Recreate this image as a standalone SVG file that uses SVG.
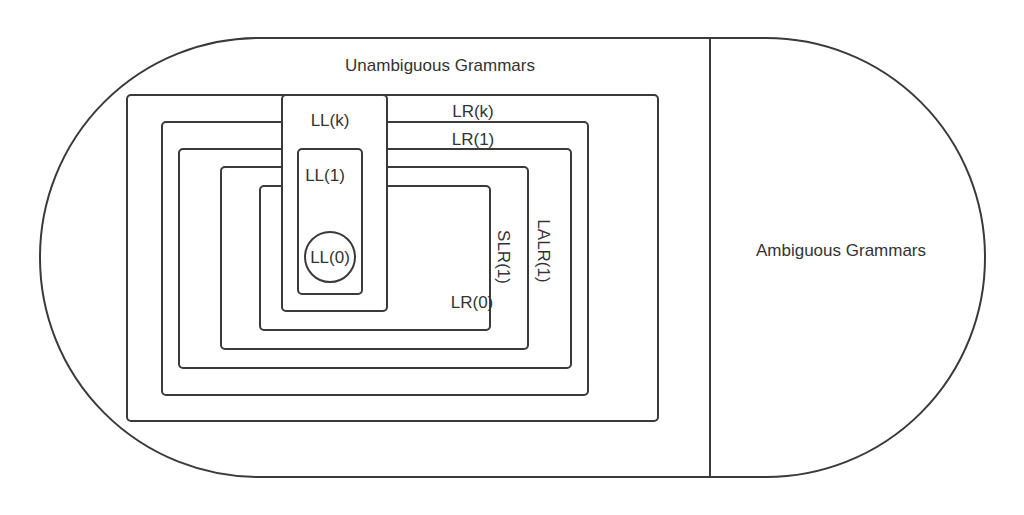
<svg xmlns="http://www.w3.org/2000/svg" width="1024" height="515" viewBox="0 0 1024 515">
<style>
.s{fill:none;stroke:#3a3a3a;stroke-width:2}
.w{fill:#fff;stroke:#3a3a3a;stroke-width:2}
text{font-family:"Liberation Sans",Arial,sans-serif;font-size:17px;fill:#333;text-anchor:middle;dominant-baseline:central}
</style>
<rect width="1024" height="515" fill="#fff"/>
<g id="universe"><rect class="s" x="40" y="38" width="945" height="439" rx="219" ry="219"/><line class="s" x1="710" y1="38" x2="710" y2="477"/>
<text x="440" y="65">Unambiguous Grammars</text><text x="841" y="250">Ambiguous Grammars</text></g>
<g id="unamb"><rect class="s" x="127" y="95" width="531" height="326" rx="4"/></g>
<g id="lrk"><rect class="s" x="162" y="122" width="426" height="273" rx="4"/><text x="473" y="111">LR(k)</text></g>
<g id="lr1"><rect class="s" x="179" y="149" width="392" height="219" rx="4"/><text x="473" y="139">LR(1)</text></g>
<g id="lalr1"><rect class="s" x="221" y="167" width="307" height="182" rx="4"/><text transform="translate(543,251) rotate(90)">LALR(1)</text></g>
<g id="slr1"><rect class="s" x="260" y="186" width="230" height="144" rx="4"/><text transform="translate(503,257) rotate(90)">SLR(1)</text></g>
<g id="lr0"><text x="472" y="302">LR(0)</text></g>
<g id="llk"><rect class="w" x="282" y="95" width="105" height="216" rx="4"/><text x="330" y="120">LL(k)</text></g>
<g id="ll1"><rect class="w" x="298" y="149" width="64" height="145" rx="4"/><text x="325" y="175">LL(1)</text></g>
<g id="ll0"><circle class="w" cx="330" cy="257" r="25"/><text x="330" y="257">LL(0)</text></g>
<g id="connectors"></g>
</svg>
